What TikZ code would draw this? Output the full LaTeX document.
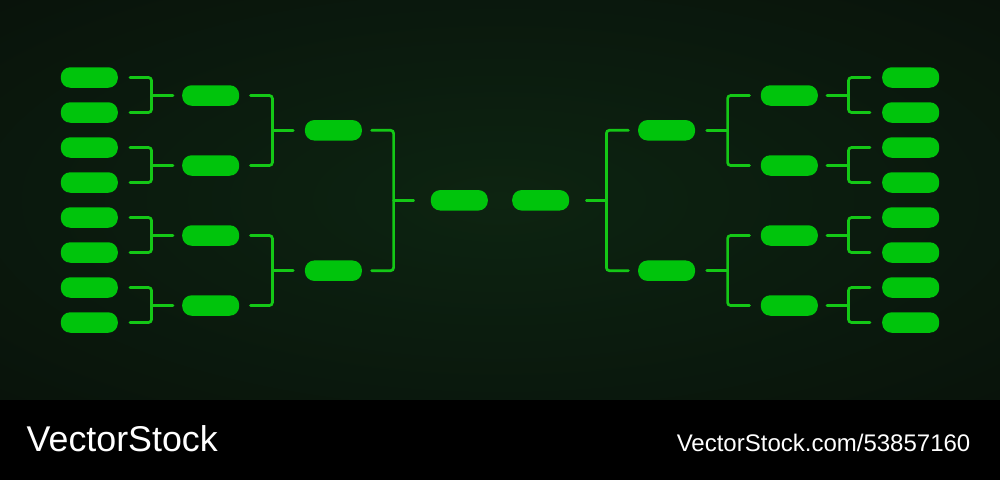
\documentclass[tikz,border=0pt]{standalone}
\usepackage{fontspec}
\setmainfont{Liberation Sans}
\definecolor{bgin}{RGB}{13,36,17}
\definecolor{bgout}{RGB}{7,11,8}
\definecolor{pillgreen}{RGB}{0,196,12}
\definecolor{linegreen}{RGB}{20,200,22}
\pgfdeclareradialshading{bgshade}{\pgfpoint{0bp}{0bp}}{color(0bp)=(bgin); color(52bp)=(bgout); color(100bp)=(bgout)}
\newcommand\brk[6]{%
  \draw[conn] ([xshift=#4]#1) -| ([xshift=#5]#3) |- ([xshift=#4]#2);
  \draw[conn] ([xshift=#5]#3) -- ([xshift=#6]#3);
}
\tikzset{
  pill/.style={rectangle, rounded corners=9.5pt, minimum width=57pt, minimum height=20.5pt, inner sep=0pt, fill=pillgreen, draw=none},
  conn/.style={draw=linegreen, line width=2.7pt, line cap=round, rounded corners=3pt},
  mark text/.style={text=white, inner sep=0pt}
}
\begin{document}
\begin{tikzpicture}[x=1pt,y=-1pt]
\useasboundingbox (0,0) rectangle (1000,480);
\shade[shading=bgshade] (0,0) rectangle (1000,400);
\fill[black] (0,400) rectangle (1000,480);
% first round, both sides
\foreach \i in {1,...,8} {
  \node[pill] (L1-\i) at (89.3,{77.5+35*(\i-1)}) {};
  \node[pill] (R1-\i) at (910.7,{77.5+35*(\i-1)}) {};
}
\foreach \i in {1,...,4} {
  \node[pill] (L2-\i) at (210.7,{95.5+70*(\i-1)}) {};
  \node[pill] (R2-\i) at (789.3,{95.5+70*(\i-1)}) {};
}
\node[pill] (L3-1) at (333.4,130.3) {};
\node[pill] (L3-2) at (333.4,270.7) {};
\node[pill] (R3-1) at (666.6,130.3) {};
\node[pill] (R3-2) at (666.6,270.7) {};
\node[pill] (LF) at (459.3,200.3) {};
\node[pill] (RF) at (540.7,200.3) {};
% brackets left
\brk{L1-1.east}{L1-2.east}{L2-1.west}{12pt}{-30.5pt}{-9pt}
\brk{L1-3.east}{L1-4.east}{L2-2.west}{12pt}{-30.5pt}{-9pt}
\brk{L1-5.east}{L1-6.east}{L2-3.west}{12pt}{-30.5pt}{-9pt}
\brk{L1-7.east}{L1-8.east}{L2-4.west}{12pt}{-30.5pt}{-9pt}
\brk{L2-1.east}{L2-2.east}{L3-1.west}{11pt}{-32.3pt}{-11.5pt}
\brk{L2-3.east}{L2-4.east}{L3-2.west}{11pt}{-32.3pt}{-11.5pt}
\brk{L3-1.east}{L3-2.east}{LF.west}{9.5pt}{-37pt}{-17pt}
% brackets right
\brk{R1-1.west}{R1-2.west}{R2-1.east}{-12pt}{30.5pt}{9pt}
\brk{R1-3.west}{R1-4.west}{R2-2.east}{-12pt}{30.5pt}{9pt}
\brk{R1-5.west}{R1-6.west}{R2-3.east}{-12pt}{30.5pt}{9pt}
\brk{R1-7.west}{R1-8.west}{R2-4.east}{-12pt}{30.5pt}{9pt}
\brk{R2-1.west}{R2-2.west}{R3-1.east}{-11pt}{32.3pt}{11.5pt}
\brk{R2-3.west}{R2-4.west}{R3-2.east}{-11pt}{32.3pt}{11.5pt}
\brk{R3-1.west}{R3-2.west}{RF.east}{-9.5pt}{37pt}{17pt}
% watermark texts
\node[mark text, anchor=base west, font=\fontsize{35.8}{36}\selectfont] (wm) at (26.5,451.7) {VectorStock};
\node[mark text, anchor=base east, font=\fontsize{24}{24}\selectfont] (url) at (970.5,451.7) {VectorStock.com/53857160};
\end{tikzpicture}
\end{document}
